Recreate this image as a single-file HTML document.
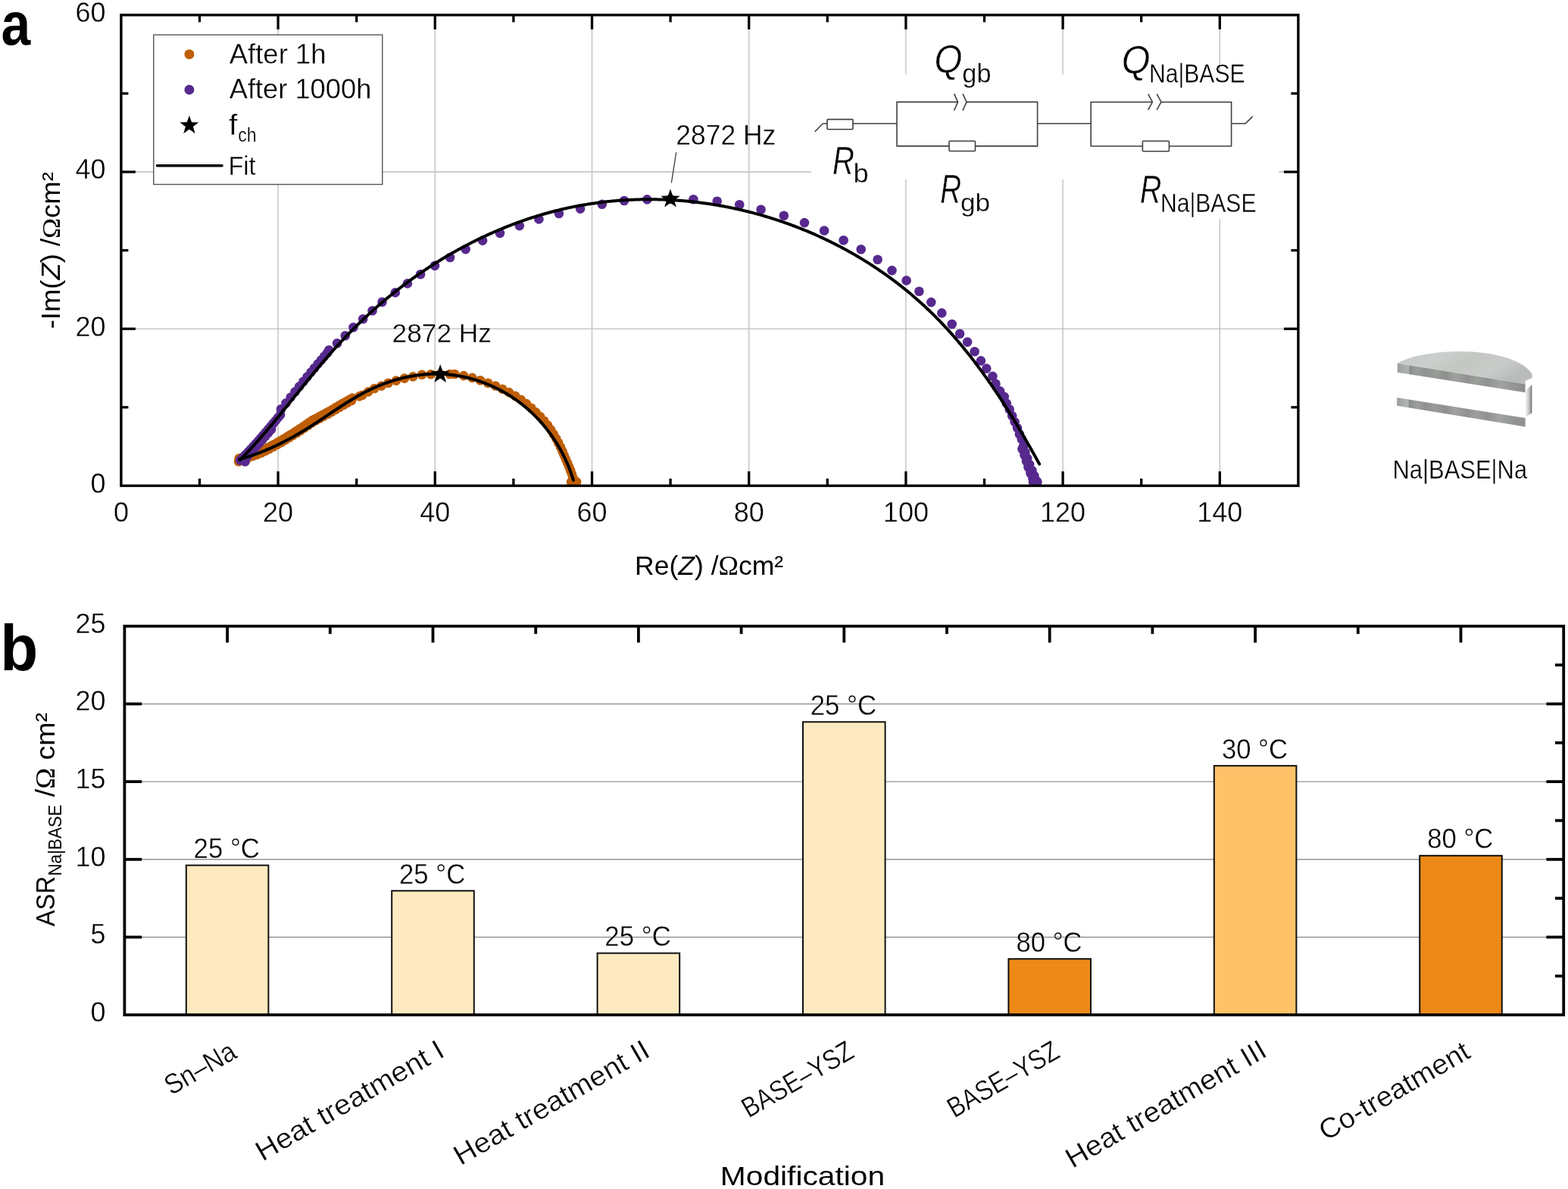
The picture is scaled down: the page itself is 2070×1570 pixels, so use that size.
<!DOCTYPE html>
<html><head><meta charset="utf-8"><title>Figure</title>
<style>html,body{margin:0;padding:0;background:#fff;width:2070px;height:1570px;overflow:hidden}svg{display:block}</style>
</head><body>
<svg xmlns="http://www.w3.org/2000/svg" width="2070" height="1570" viewBox="0 0 2070 1570"><rect width="2070" height="1570" fill="#fff"/><line x1="367.1" y1="19.8" x2="367.1" y2="641.4" stroke="#bebebe" stroke-width="1.3"/>
<line x1="574.3" y1="19.8" x2="574.3" y2="641.4" stroke="#bebebe" stroke-width="1.3"/>
<line x1="781.5" y1="19.8" x2="781.5" y2="641.4" stroke="#bebebe" stroke-width="1.3"/>
<line x1="988.7" y1="19.8" x2="988.7" y2="641.4" stroke="#bebebe" stroke-width="1.3"/>
<line x1="1195.9" y1="19.8" x2="1195.9" y2="641.4" stroke="#bebebe" stroke-width="1.3"/>
<line x1="1403.1" y1="19.8" x2="1403.1" y2="641.4" stroke="#bebebe" stroke-width="1.3"/>
<line x1="1610.3" y1="19.8" x2="1610.3" y2="641.4" stroke="#bebebe" stroke-width="1.3"/>
<line x1="159.9" y1="434.2" x2="1713.9" y2="434.2" stroke="#bebebe" stroke-width="1.3"/>
<line x1="159.9" y1="227" x2="1713.9" y2="227" stroke="#bebebe" stroke-width="1.3"/>
<rect x="1071" y="98.5" width="617" height="138.5" fill="#fff"/>
<rect x="1500" y="236" width="188" height="53" fill="#fff"/>
<rect x="202.8" y="46" width="302" height="197.5" fill="#fff" stroke="#555" stroke-width="1.4"/>
<line x1="263.5" y1="641.4" x2="263.5" y2="631.9" stroke="#000" stroke-width="3.3"/>
<line x1="263.5" y1="19.8" x2="263.5" y2="29.3" stroke="#000" stroke-width="3.3"/>
<line x1="367.1" y1="641.4" x2="367.1" y2="622.4" stroke="#000" stroke-width="3.3"/>
<line x1="367.1" y1="19.8" x2="367.1" y2="38.8" stroke="#000" stroke-width="3.3"/>
<line x1="470.7" y1="641.4" x2="470.7" y2="631.9" stroke="#000" stroke-width="3.3"/>
<line x1="470.7" y1="19.8" x2="470.7" y2="29.3" stroke="#000" stroke-width="3.3"/>
<line x1="574.3" y1="641.4" x2="574.3" y2="622.4" stroke="#000" stroke-width="3.3"/>
<line x1="574.3" y1="19.8" x2="574.3" y2="38.8" stroke="#000" stroke-width="3.3"/>
<line x1="677.9" y1="641.4" x2="677.9" y2="631.9" stroke="#000" stroke-width="3.3"/>
<line x1="677.9" y1="19.8" x2="677.9" y2="29.3" stroke="#000" stroke-width="3.3"/>
<line x1="781.5" y1="641.4" x2="781.5" y2="622.4" stroke="#000" stroke-width="3.3"/>
<line x1="781.5" y1="19.8" x2="781.5" y2="38.8" stroke="#000" stroke-width="3.3"/>
<line x1="885.1" y1="641.4" x2="885.1" y2="631.9" stroke="#000" stroke-width="3.3"/>
<line x1="885.1" y1="19.8" x2="885.1" y2="29.3" stroke="#000" stroke-width="3.3"/>
<line x1="988.7" y1="641.4" x2="988.7" y2="622.4" stroke="#000" stroke-width="3.3"/>
<line x1="988.7" y1="19.8" x2="988.7" y2="38.8" stroke="#000" stroke-width="3.3"/>
<line x1="1092.3" y1="641.4" x2="1092.3" y2="631.9" stroke="#000" stroke-width="3.3"/>
<line x1="1092.3" y1="19.8" x2="1092.3" y2="29.3" stroke="#000" stroke-width="3.3"/>
<line x1="1195.9" y1="641.4" x2="1195.9" y2="622.4" stroke="#000" stroke-width="3.3"/>
<line x1="1195.9" y1="19.8" x2="1195.9" y2="38.8" stroke="#000" stroke-width="3.3"/>
<line x1="1299.5" y1="641.4" x2="1299.5" y2="631.9" stroke="#000" stroke-width="3.3"/>
<line x1="1299.5" y1="19.8" x2="1299.5" y2="29.3" stroke="#000" stroke-width="3.3"/>
<line x1="1403.1" y1="641.4" x2="1403.1" y2="622.4" stroke="#000" stroke-width="3.3"/>
<line x1="1403.1" y1="19.8" x2="1403.1" y2="38.8" stroke="#000" stroke-width="3.3"/>
<line x1="1506.7" y1="641.4" x2="1506.7" y2="631.9" stroke="#000" stroke-width="3.3"/>
<line x1="1506.7" y1="19.8" x2="1506.7" y2="29.3" stroke="#000" stroke-width="3.3"/>
<line x1="1610.3" y1="641.4" x2="1610.3" y2="622.4" stroke="#000" stroke-width="3.3"/>
<line x1="1610.3" y1="19.8" x2="1610.3" y2="38.8" stroke="#000" stroke-width="3.3"/>
<line x1="159.9" y1="537.8" x2="169.4" y2="537.8" stroke="#000" stroke-width="3.3"/>
<line x1="1713.9" y1="537.8" x2="1704.4" y2="537.8" stroke="#000" stroke-width="3.3"/>
<line x1="159.9" y1="434.2" x2="178.9" y2="434.2" stroke="#000" stroke-width="3.3"/>
<line x1="1713.9" y1="434.2" x2="1694.9" y2="434.2" stroke="#000" stroke-width="3.3"/>
<line x1="159.9" y1="330.6" x2="169.4" y2="330.6" stroke="#000" stroke-width="3.3"/>
<line x1="1713.9" y1="330.6" x2="1704.4" y2="330.6" stroke="#000" stroke-width="3.3"/>
<line x1="159.9" y1="227" x2="178.9" y2="227" stroke="#000" stroke-width="3.3"/>
<line x1="1713.9" y1="227" x2="1694.9" y2="227" stroke="#000" stroke-width="3.3"/>
<line x1="159.9" y1="123.4" x2="169.4" y2="123.4" stroke="#000" stroke-width="3.3"/>
<line x1="1713.9" y1="123.4" x2="1704.4" y2="123.4" stroke="#000" stroke-width="3.3"/>
<text x="159.9" y="688.5" font-size="36" text-anchor="middle" font-family="Liberation Sans, Arial, sans-serif" stroke="#fff" stroke-width="0.35">0</text>
<text x="367.1" y="688.5" font-size="36" text-anchor="middle" font-family="Liberation Sans, Arial, sans-serif" stroke="#fff" stroke-width="0.35">20</text>
<text x="574.3" y="688.5" font-size="36" text-anchor="middle" font-family="Liberation Sans, Arial, sans-serif" stroke="#fff" stroke-width="0.35">40</text>
<text x="781.5" y="688.5" font-size="36" text-anchor="middle" font-family="Liberation Sans, Arial, sans-serif" stroke="#fff" stroke-width="0.35">60</text>
<text x="988.7" y="688.5" font-size="36" text-anchor="middle" font-family="Liberation Sans, Arial, sans-serif" stroke="#fff" stroke-width="0.35">80</text>
<text x="1195.9" y="688.5" font-size="36" text-anchor="middle" font-family="Liberation Sans, Arial, sans-serif" stroke="#fff" stroke-width="0.35">100</text>
<text x="1403.1" y="688.5" font-size="36" text-anchor="middle" font-family="Liberation Sans, Arial, sans-serif" stroke="#fff" stroke-width="0.35">120</text>
<text x="1610.3" y="688.5" font-size="36" text-anchor="middle" font-family="Liberation Sans, Arial, sans-serif" stroke="#fff" stroke-width="0.35">140</text>
<text x="139.5" y="650.8" font-size="36" text-anchor="end" font-family="Liberation Sans, Arial, sans-serif" stroke="#fff" stroke-width="0.35">0</text>
<text x="139.5" y="443.6" font-size="36" text-anchor="end" font-family="Liberation Sans, Arial, sans-serif" stroke="#fff" stroke-width="0.35">20</text>
<text x="139.5" y="236.4" font-size="36" text-anchor="end" font-family="Liberation Sans, Arial, sans-serif" stroke="#fff" stroke-width="0.35">40</text>
<text x="139.5" y="29.2" font-size="36" text-anchor="end" font-family="Liberation Sans, Arial, sans-serif" stroke="#fff" stroke-width="0.35">60</text>
<g fill="#be5e06"><circle cx="315.67" cy="605.2" r="6.3"/><circle cx="320.49" cy="603.88" r="6.3"/><circle cx="325.28" cy="602.46" r="6.3"/><circle cx="330.05" cy="600.94" r="6.3"/><circle cx="334.78" cy="599.34" r="6.3"/><circle cx="339.49" cy="597.65" r="6.3"/><circle cx="344.12" cy="595.78" r="6.3"/><circle cx="348.63" cy="593.63" r="6.3"/><circle cx="353.11" cy="591.4" r="6.3"/><circle cx="357.55" cy="589.1" r="6.3"/><circle cx="361.96" cy="586.73" r="6.3"/><circle cx="366.32" cy="584.3" r="6.3"/><circle cx="370.66" cy="581.81" r="6.3"/><circle cx="374.96" cy="579.25" r="6.3"/><circle cx="379.23" cy="576.66" r="6.3"/><circle cx="383.51" cy="574.07" r="6.3"/><circle cx="387.75" cy="571.43" r="6.3"/><circle cx="391.97" cy="568.74" r="6.3"/><circle cx="396.16" cy="566.01" r="6.3"/><circle cx="400.31" cy="563.23" r="6.3"/><circle cx="404.45" cy="560.41" r="6.3"/><circle cx="408.55" cy="557.56" r="6.3"/><circle cx="412.7" cy="554.78" r="6.3"/><circle cx="417.12" cy="552.45" r="6.3"/><circle cx="421.53" cy="550.1" r="6.3"/><circle cx="425.94" cy="547.72" r="6.3"/><circle cx="430.33" cy="545.34" r="6.3"/><circle cx="434.73" cy="542.96" r="6.3"/><circle cx="439.06" cy="540.46" r="6.3"/><circle cx="443.36" cy="537.92" r="6.3"/><circle cx="447.68" cy="535.39" r="6.3"/><circle cx="452.01" cy="532.9" r="6.3"/><circle cx="456.37" cy="530.44" r="6.3"/><circle cx="460.75" cy="528.03" r="6.3"/><circle cx="465.15" cy="525.67" r="6.3"/><circle cx="316.29" cy="607.52" r="6.3"/><circle cx="322.07" cy="605.92" r="6.3"/><circle cx="327.81" cy="604.18" r="6.3"/><circle cx="333.51" cy="602.32" r="6.3"/><circle cx="339.17" cy="600.33" r="6.3"/><circle cx="344.75" cy="598.13" r="6.3"/><circle cx="350.17" cy="595.54" r="6.3"/><circle cx="355.53" cy="592.85" r="6.3"/><circle cx="360.84" cy="590.06" r="6.3"/><circle cx="366.1" cy="587.17" r="6.3"/><circle cx="371.31" cy="584.2" r="6.3"/><circle cx="376.47" cy="581.14" r="6.3"/><circle cx="381.61" cy="578.03" r="6.3"/><circle cx="386.72" cy="574.9" r="6.3"/><circle cx="391.8" cy="571.7" r="6.3"/><circle cx="396.83" cy="568.43" r="6.3"/><circle cx="401.82" cy="565.1" r="6.3"/><circle cx="406.78" cy="561.72" r="6.3"/><circle cx="411.7" cy="558.28" r="6.3"/><circle cx="416.88" cy="555.28" r="6.3"/><circle cx="422.18" cy="552.46" r="6.3"/><circle cx="427.46" cy="549.62" r="6.3"/><circle cx="432.73" cy="546.76" r="6.3"/><circle cx="438" cy="543.89" r="6.3"/><circle cx="443.16" cy="540.82" r="6.3"/><circle cx="448.33" cy="537.78" r="6.3"/><circle cx="453.53" cy="534.79" r="6.3"/><circle cx="458.76" cy="531.85" r="6.3"/><circle cx="464.03" cy="528.98" r="6.3"/><circle cx="315" cy="609.5" r="6.3"/><circle cx="474.4" cy="523.4" r="6.3"/><circle cx="478.3" cy="521.7" r="6.3"/><circle cx="486.1" cy="517.4" r="6.3"/><circle cx="494.3" cy="513" r="6.3"/><circle cx="503.5" cy="509.6" r="6.3"/><circle cx="512.6" cy="505.7" r="6.3"/><circle cx="523" cy="502.6" r="6.3"/><circle cx="533.9" cy="499.6" r="6.3"/><circle cx="545.2" cy="497.4" r="6.3"/><circle cx="557" cy="494.8" r="6.3"/><circle cx="568.7" cy="494.3" r="6.3"/><circle cx="581" cy="494" r="6.3"/><circle cx="593.7" cy="494" r="6.3"/><circle cx="600.31" cy="493.99" r="6.3"/><circle cx="612.12" cy="496.09" r="6.3"/><circle cx="623.38" cy="498.85" r="6.3"/><circle cx="634.08" cy="502.18" r="6.3"/><circle cx="644.29" cy="505.8" r="6.3"/><circle cx="654.06" cy="509.55" r="6.3"/><circle cx="663.3" cy="513.69" r="6.3"/><circle cx="672" cy="518.16" r="6.3"/><circle cx="680.17" cy="522.91" r="6.3"/><circle cx="687.83" cy="527.89" r="6.3"/><circle cx="694.91" cy="533.15" r="6.3"/><circle cx="701.38" cy="538.72" r="6.3"/><circle cx="707.4" cy="544.35" r="6.3"/><circle cx="712.99" cy="550.04" r="6.3"/><circle cx="718.18" cy="555.73" r="6.3"/><circle cx="722.99" cy="561.42" r="6.3"/><circle cx="727.09" cy="567.33" r="6.3"/><circle cx="730.77" cy="573.23" r="6.3"/><circle cx="734.14" cy="579.05" r="6.3"/><circle cx="737.2" cy="584.78" r="6.3"/><circle cx="739.97" cy="590.41" r="6.3"/><circle cx="742.49" cy="595.93" r="6.3"/><circle cx="744.76" cy="601.34" r="6.3"/><circle cx="746.95" cy="606.57" r="6.3"/><circle cx="749.2" cy="611.56" r="6.3"/><circle cx="751.25" cy="616.44" r="6.3"/><circle cx="753.12" cy="621.21" r="6.3"/><circle cx="754.81" cy="625.86" r="6.3"/><circle cx="756.33" cy="630.39" r="6.3"/><circle cx="761.1" cy="636.3" r="6.3"/><circle cx="758.5" cy="636.8" r="6.3"/><circle cx="754" cy="636.5" r="6.3"/></g>
<g fill="#57298e"><circle cx="317.22" cy="607.73" r="6.3"/><circle cx="320.71" cy="604.15" r="6.3"/><circle cx="324.17" cy="600.54" r="6.3"/><circle cx="327.6" cy="596.9" r="6.3"/><circle cx="331.01" cy="593.24" r="6.3"/><circle cx="334.38" cy="589.55" r="6.3"/><circle cx="337.73" cy="585.83" r="6.3"/><circle cx="341.05" cy="582.1" r="6.3"/><circle cx="344.35" cy="578.34" r="6.3"/><circle cx="347.63" cy="574.57" r="6.3"/><circle cx="350.89" cy="570.77" r="6.3"/><circle cx="354.13" cy="566.97" r="6.3"/><circle cx="357.35" cy="563.14" r="6.3"/><circle cx="360.56" cy="559.31" r="6.3"/><circle cx="363.75" cy="555.46" r="6.3"/><circle cx="366.93" cy="551.6" r="6.3"/><circle cx="370.1" cy="547.73" r="6.3"/><circle cx="322.02" cy="607.11" r="6.3"/><circle cx="326.18" cy="602.78" r="6.3"/><circle cx="330.3" cy="598.41" r="6.3"/><circle cx="334.37" cy="594.01" r="6.3"/><circle cx="338.4" cy="589.57" r="6.3"/><circle cx="342.4" cy="585.09" r="6.3"/><circle cx="346.37" cy="580.59" r="6.3"/><circle cx="350.3" cy="576.06" r="6.3"/><circle cx="354.21" cy="571.51" r="6.3"/><circle cx="358.09" cy="566.93" r="6.3"/><circle cx="323.6" cy="609.5" r="6.3"/><circle cx="431.9" cy="466.29" r="6.3"/><circle cx="427.96" cy="470.81" r="6.3"/><circle cx="423.85" cy="475.6" r="6.3"/><circle cx="419.57" cy="480.65" r="6.3"/><circle cx="415.1" cy="485.98" r="6.3"/><circle cx="410.43" cy="491.61" r="6.3"/><circle cx="405.56" cy="497.54" r="6.3"/><circle cx="400.46" cy="503.8" r="6.3"/><circle cx="395.13" cy="510.39" r="6.3"/><circle cx="389.54" cy="517.32" r="6.3"/><circle cx="383.67" cy="524.61" r="6.3"/><circle cx="377.5" cy="532.27" r="6.3"/><circle cx="371" cy="540.29" r="6.3"/><circle cx="434.3" cy="462.3" r="6.3"/><circle cx="445.1" cy="453.3" r="6.3"/><circle cx="455.8" cy="443.2" r="6.3"/><circle cx="466.5" cy="432.2" r="6.3"/><circle cx="479.2" cy="421.3" r="6.3"/><circle cx="491.6" cy="410.3" r="6.3"/><circle cx="504.5" cy="398.7" r="6.3"/><circle cx="521.8" cy="386.4" r="6.3"/><circle cx="537.9" cy="374.4" r="6.3"/><circle cx="555.1" cy="362.3" r="6.3"/><circle cx="574" cy="350.9" r="6.3"/><circle cx="594.1" cy="340" r="6.3"/><circle cx="614.7" cy="329.1" r="6.3"/><circle cx="637.1" cy="317.6" r="6.3"/><circle cx="660" cy="307.9" r="6.3"/><circle cx="685.8" cy="298.1" r="6.3"/><circle cx="711.4" cy="289.4" r="6.3"/><circle cx="737.9" cy="282" r="6.3"/><circle cx="766.1" cy="275.6" r="6.3"/><circle cx="794.8" cy="269.8" r="6.3"/><circle cx="824" cy="265" r="6.3"/><circle cx="854.3" cy="263.4" r="6.3"/><circle cx="885" cy="263" r="6.3"/><circle cx="915.4" cy="263.3" r="6.3"/><circle cx="946.7" cy="265.7" r="6.3"/><circle cx="976.2" cy="270.3" r="6.3"/><circle cx="1004.6" cy="276.7" r="6.3"/><circle cx="1034.8" cy="284.8" r="6.3"/><circle cx="1062" cy="294.1" r="6.3"/><circle cx="1088.1" cy="304.5" r="6.3"/><circle cx="1113.6" cy="317.2" r="6.3"/><circle cx="1136.7" cy="329.3" r="6.3"/><circle cx="1158.6" cy="342.7" r="6.3"/><circle cx="1177.5" cy="357.1" r="6.3"/><circle cx="1196.6" cy="370.4" r="6.3"/><circle cx="1213.4" cy="384.7" r="6.3"/><circle cx="1229.3" cy="399.1" r="6.3"/><circle cx="1243.3" cy="413.4" r="6.3"/><circle cx="1256.7" cy="428" r="6.3"/><circle cx="1267.1" cy="440.8" r="6.3"/><circle cx="1277.1" cy="451.6" r="6.3"/><circle cx="1286.6" cy="464.3" r="6.3"/><circle cx="1294.9" cy="476.4" r="6.3"/><circle cx="1302.3" cy="486.6" r="6.3"/><circle cx="1310.4" cy="496.9" r="6.3"/><circle cx="1314.4" cy="506.7" r="6.3"/><circle cx="1320.1" cy="516.4" r="6.3"/><circle cx="1325.8" cy="523.9" r="6.3"/><circle cx="1328.7" cy="532.5" r="6.3"/><circle cx="1332.7" cy="540.5" r="6.3"/><circle cx="1336.2" cy="549.1" r="6.3"/><circle cx="1339.6" cy="557.1" r="6.3"/><circle cx="1343" cy="565.1" r="6.3"/><circle cx="1345.9" cy="573.2" r="6.3"/><circle cx="1348.8" cy="580" r="6.3"/><circle cx="1351.1" cy="589.2" r="6.3"/><circle cx="1353.4" cy="597.2" r="6.3"/><circle cx="1356.2" cy="605.2" r="6.3"/><circle cx="1359.1" cy="613.3" r="6.3"/><circle cx="1362.5" cy="621.3" r="6.3"/><circle cx="1365.4" cy="628.2" r="6.3"/><circle cx="1368.3" cy="635" r="6.3"/><circle cx="1369.4" cy="636.5" r="6.3"/><circle cx="1349.5" cy="593" r="6.3"/><circle cx="1352.5" cy="601" r="6.3"/><circle cx="1355" cy="609" r="6.3"/><circle cx="1357.5" cy="617" r="6.3"/><circle cx="1360.5" cy="625" r="6.3"/><circle cx="1363.5" cy="632" r="6.3"/><circle cx="1366.5" cy="636" r="6.3"/><circle cx="1364" cy="636.5" r="6.3"/></g>
<path d="M315.98 606.36 L317.03 606.08 L318.08 605.8 L319.12 605.51 L320.16 605.22 L321.21 604.92 L322.25 604.62 L323.28 604.31 L324.32 604 L325.35 603.69 L326.38 603.37 L327.41 603.05 L328.44 602.73 L329.46 602.4 L330.48 602.06 L331.51 601.73 L332.52 601.39 L333.54 601.04 L334.55 600.69 L335.57 600.34 L336.58 599.98 L337.59 599.62 L338.59 599.26 L339.6 598.89 L340.6 598.52 L341.6 598.15 L342.6 597.77 L343.6 597.39 L344.59 597 L345.59 596.61 L346.58 596.22 L347.57 595.83 L348.56 595.43 L349.54 595.03 L350.53 594.62 L351.51 594.21 L352.49 593.8 L353.47 593.38 L354.45 592.96 L355.42 592.54 L356.4 592.11 L357.37 591.69 L358.34 591.25 L359.31 590.82 L360.28 590.38 L361.24 589.94 L362.21 589.49 L363.17 589.05 L364.13 588.6 L365.09 588.14 L366.05 587.69 L367 587.23 L367.96 586.76 L368.91 586.3 L369.86 585.83 L370.81 585.36 L371.76 584.89 L372.71 584.41 L373.65 583.93 L374.6 583.45 L375.54 582.96 L376.48 582.47 L377.42 581.98 L378.36 581.49 L379.3 581 L380.23 580.5 L381.17 580 L382.1 579.49 L383.03 578.99 L383.96 578.48 L384.89 577.97 L385.82 577.46 L386.75 576.94 L387.67 576.42 L388.6 575.9 L389.52 575.38 L390.44 574.86 L391.36 574.33 L392.28 573.8 L393.2 573.27 L394.12 572.74 L395.03 572.2 L395.95 571.66 L396.86 571.12 L397.77 570.58 L398.68 570.04 L399.59 569.49 L400.5 568.94 L401.41 568.39 L402.32 567.84 L403.22 567.29 L404.13 566.73 L405.03 566.17 L405.93 565.61 L406.84 565.05 L407.74 564.49 L408.64 563.92 L409.54 563.36 L410.43 562.79 L411.33 562.22 L412.23 561.64 L413.12 561.07 L414.02 560.5 L414.91 559.92 L415.8 559.34 L416.7 558.76 L417.59 558.18 L418.48 557.6 L419.37 557.01 L420.26 556.43 L421.14 555.84 L422.03 555.26 L422.92 554.67 L423.81 554.08 L424.69 553.49 L425.58 552.9 L426.47 552.31 L427.35 551.72 L428.24 551.12 L429.12 550.53 L430.01 549.94 L430.89 549.35 L431.78 548.75 L432.66 548.16 L433.55 547.57 L434.43 546.97 L435.32 546.38 L436.2 545.78 L437.09 545.19 L437.98 544.6 L438.86 544.01 L439.75 543.42 L440.63 542.82 L441.52 542.23 L442.41 541.64 L443.3 541.05 L444.19 540.47 L445.07 539.88 L445.96 539.29 L446.85 538.71 L447.74 538.12 L448.64 537.54 L449.53 536.96 L450.42 536.38 L451.32 535.8 L452.21 535.22 L453.11 534.64 L454 534.07 L454.9 533.5 L455.8 532.93 L456.7 532.36 L457.6 531.79 L458.5 531.22 L459.41 530.66 L460.31 530.1 L461.22 529.54 L462.13 528.99 L463.04 528.43 L463.95 527.88 L464.86 527.33 L465.77 526.79 L466.69 526.24 L467.6 525.7 L468.52 525.16 L469.44 524.63 L470.36 524.1 L471.29 523.57 L472.21 523.04 L473.14 522.52 L474.07 522 L475 521.48 L475.93 520.97 L476.87 520.46 L477.81 519.95 L478.75 519.45 L479.69 518.95 L480.63 518.46 L481.58 517.97 L482.52 517.48 L483.48 517 L484.43 516.52 L485.38 516.05 L486.34 515.58 L487.3 515.11 L488.26 514.65 L489.23 514.19 L490.2 513.74 L491.16 513.29 L492.14 512.84 L493.11 512.4 L494.08 511.97 L495.06 511.53 L496.04 511.11 L497.02 510.69 L498.01 510.27 L498.99 509.85 L499.98 509.44 L500.97 509.04 L501.96 508.64 L502.96 508.24 L503.95 507.85 L504.95 507.47 L505.95 507.09 L506.95 506.71 L507.95 506.34 L508.96 505.97 L509.96 505.61 L510.97 505.25 L511.98 504.9 L512.99 504.55 L514.01 504.21 L515.02 503.87 L516.04 503.54 L517.06 503.21 L518.08 502.89 L519.1 502.57 L520.12 502.26 L521.14 501.95 L522.17 501.65 L523.19 501.35 L524.22 501.06 L525.25 500.77 L526.28 500.49 L527.31 500.22 L528.35 499.95 L529.38 499.68 L530.42 499.42 L531.45 499.17 L532.49 498.92 L533.53 498.67 L534.57 498.44 L535.61 498.2 L536.65 497.98 L537.69 497.76 L538.74 497.54 L539.78 497.33 L540.83 497.12 L541.88 496.93 L542.92 496.73 L543.97 496.54 L545.02 496.36 L546.07 496.19 L547.12 496.02 L548.18 495.85 L549.23 495.69 L550.28 495.54 L551.34 495.39 L552.39 495.25 L553.45 495.12 L554.5 494.99 L555.56 494.87 L556.62 494.75 L557.67 494.64 L558.73 494.54 L559.79 494.44 L560.85 494.34 L561.91 494.26 L562.97 494.18 L564.03 494.11 L565.09 494.04 L566.15 493.98 L567.21 493.92 L568.27 493.87 L569.33 493.83 L570.39 493.8 L571.46 493.77 L572.52 493.75 L573.58 493.73 L574.64 493.72 L575.7 493.72 L576.77 493.72 L577.83 493.73 L578.89 493.75 L579.95 493.77 L581.02 493.8 L582.08 493.84 L583.14 493.88 L584.2 493.93 L585.26 493.99 L586.33 494.05 L587.39 494.12 L588.45 494.2 L589.51 494.28 L590.57 494.37 L591.63 494.47 L592.69 494.57 L593.75 494.68 L594.81 494.8 L595.86 494.92 L596.92 495.05 L597.98 495.18 L599.03 495.33 L600.09 495.47 L601.14 495.63 L602.2 495.79 L603.25 495.96 L604.3 496.13 L605.35 496.31 L606.4 496.5 L607.45 496.69 L608.5 496.89 L609.55 497.09 L610.59 497.3 L611.64 497.52 L612.68 497.74 L613.73 497.97 L614.77 498.21 L615.81 498.45 L616.85 498.7 L617.88 498.95 L618.92 499.21 L619.96 499.48 L620.99 499.75 L622.02 500.03 L623.05 500.31 L624.08 500.6 L625.11 500.9 L626.13 501.2 L627.16 501.51 L628.18 501.82 L629.2 502.14 L630.22 502.47 L631.24 502.8 L632.25 503.14 L633.27 503.48 L634.28 503.83 L635.29 504.18 L636.29 504.54 L637.3 504.91 L638.3 505.28 L639.3 505.66 L640.3 506.04 L641.3 506.43 L642.3 506.83 L643.29 507.23 L644.28 507.63 L645.27 508.04 L646.25 508.46 L647.24 508.88 L648.22 509.31 L649.2 509.75 L650.17 510.18 L651.15 510.63 L652.12 511.08 L653.09 511.53 L654.05 512 L655.01 512.46 L655.97 512.93 L656.93 513.41 L657.89 513.89 L658.84 514.38 L659.79 514.87 L660.73 515.37 L661.68 515.88 L662.62 516.38 L663.56 516.9 L664.49 517.42 L665.42 517.94 L666.35 518.47 L667.27 519.01 L668.2 519.55 L669.11 520.09 L670.03 520.64 L670.94 521.2 L671.85 521.76 L672.76 522.32 L673.66 522.89 L674.56 523.47 L675.45 524.05 L676.34 524.64 L677.23 525.23 L678.12 525.82 L679 526.42 L679.87 527.03 L680.75 527.64 L681.62 528.25 L682.48 528.87 L683.35 529.5 L684.21 530.13 L685.06 530.76 L685.91 531.4 L686.76 532.04 L687.6 532.69 L688.44 533.34 L689.28 534 L690.11 534.66 L690.94 535.33 L691.77 536 L692.59 536.68 L693.41 537.36 L694.22 538.04 L695.03 538.73 L695.84 539.42 L696.64 540.12 L697.44 540.82 L698.23 541.53 L699.02 542.24 L699.81 542.96 L700.59 543.68 L701.37 544.4 L702.15 545.13 L702.92 545.86 L703.68 546.6 L704.45 547.34 L705.21 548.08 L705.96 548.83 L706.71 549.59 L707.46 550.34 L708.2 551.1 L708.94 551.87 L709.67 552.64 L710.4 553.41 L711.13 554.19 L711.85 554.97 L712.57 555.75 L713.28 556.54 L713.99 557.33 L714.7 558.13 L715.4 558.93 L716.09 559.73 L716.79 560.54 L717.47 561.35 L718.16 562.17 L718.84 562.98 L719.51 563.81 L720.18 564.63 L720.85 565.46 L721.51 566.29 L722.17 567.13 L722.83 567.97 L723.47 568.81 L724.12 569.66 L724.76 570.51 L725.4 571.36 L726.03 572.22 L726.66 573.08 L727.28 573.94 L727.9 574.81 L728.51 575.68 L729.12 576.55 L729.72 577.43 L730.32 578.31 L730.92 579.19 L731.51 580.08 L732.1 580.97 L732.68 581.86 L733.26 582.76 L733.83 583.66 L734.4 584.56 L734.96 585.46 L735.52 586.37 L736.08 587.28 L736.62 588.19 L737.17 589.11 L737.71 590.03 L738.25 590.95 L738.78 591.88 L739.3 592.8 L739.82 593.73 L740.34 594.67 L740.85 595.6 L741.36 596.54 L741.86 597.48 L742.36 598.43 L742.85 599.37 L743.34 600.32 L743.82 601.27 L744.3 602.23 L744.77 603.19 L745.24 604.14 L745.7 605.11 L746.16 606.07 L746.61 607.04 L747.06 608.01 L747.51 608.98 L747.94 609.95 L748.38 610.93 L748.81 611.91 L749.23 612.89 L749.65 613.87 L750.06 614.86 L750.47 615.84 L750.87 616.83 L751.27 617.82 L751.66 618.82 L752.05 619.81 L752.43 620.81 L752.81 621.81 L753.18 622.82 L753.55 623.82 L753.91 624.83 L754.27 625.83 L754.62 626.84 L754.97 627.86 L755.31 628.87 L755.64 629.89 L755.97 630.9 L756.3 631.92 L756.62 632.94 L756.93 633.97" fill="none" stroke="#000" stroke-width="4" stroke-linejoin="round" stroke-linecap="round"/>
<path d="M316.87 607.38 L318.19 606.03 L319.51 604.67 L320.82 603.31 L322.14 601.95 L323.44 600.58 L324.74 599.21 L326.04 597.84 L327.34 596.46 L328.63 595.07 L329.91 593.69 L331.19 592.29 L332.47 590.9 L333.75 589.5 L335.02 588.1 L336.29 586.69 L337.55 585.28 L338.81 583.87 L340.07 582.45 L341.32 581.04 L342.57 579.61 L343.82 578.19 L345.07 576.76 L346.31 575.33 L347.55 573.9 L348.79 572.46 L350.02 571.02 L351.25 569.58 L352.48 568.14 L353.71 566.69 L354.93 565.24 L356.15 563.79 L357.37 562.34 L358.59 560.89 L359.81 559.43 L361.02 557.97 L362.23 556.51 L363.44 555.05 L364.65 553.58 L365.86 552.12 L367.06 550.65 L368.27 549.18 L369.47 547.71 L370.67 546.24 L371.87 544.77 L373.07 543.3 L374.27 541.82 L375.46 540.35 L376.66 538.87 L377.86 537.4 L379.05 535.92 L380.24 534.44 L381.44 532.96 L382.63 531.48 L383.82 530.01 L385.01 528.53 L386.2 527.05 L387.4 525.57 L388.59 524.09 L389.78 522.61 L390.97 521.13 L392.16 519.65 L393.35 518.17 L394.54 516.69 L395.73 515.21 L396.93 513.73 L398.12 512.25 L399.31 510.78 L400.51 509.3 L401.7 507.83 L402.9 506.35 L404.09 504.88 L405.29 503.41 L406.49 501.93 L407.69 500.46 L408.89 499 L410.09 497.53 L411.3 496.06 L412.5 494.6 L413.71 493.13 L414.92 491.67 L416.13 490.21 L417.34 488.76 L418.55 487.3 L419.77 485.85 L420.98 484.4 L422.2 482.95 L423.43 481.5 L424.65 480.06 L425.88 478.61 L427.11 477.17 L428.34 475.74 L429.57 474.3 L430.81 472.87 L432.05 471.44 L433.29 470.01 L434.53 468.59 L435.78 467.17 L437.03 465.75 L438.28 464.34 L439.54 462.93 L440.8 461.52 L442.06 460.12 L443.33 458.72 L444.6 457.32 L445.88 455.93 L447.15 454.54 L448.44 453.16 L449.72 451.77 L451.01 450.4 L452.3 449.02 L453.6 447.65 L454.89 446.28 L456.2 444.92 L457.5 443.56 L458.81 442.2 L460.13 440.85 L461.44 439.51 L462.77 438.16 L464.09 436.82 L465.42 435.48 L466.75 434.15 L468.09 432.82 L469.42 431.5 L470.77 430.18 L472.11 428.86 L473.46 427.55 L474.82 426.24 L476.17 424.93 L477.53 423.63 L478.9 422.33 L480.27 421.04 L481.64 419.75 L483.01 418.46 L484.39 417.18 L485.78 415.9 L487.16 414.63 L488.55 413.36 L489.95 412.09 L491.35 410.83 L492.75 409.58 L494.15 408.32 L495.56 407.07 L496.97 405.83 L498.39 404.59 L499.81 403.35 L501.23 402.12 L502.66 400.89 L504.09 399.66 L505.53 398.44 L506.97 397.23 L508.41 396.01 L509.85 394.81 L511.3 393.6 L512.76 392.4 L514.22 391.21 L515.68 390.02 L517.14 388.83 L518.61 387.65 L520.08 386.47 L521.56 385.3 L523.04 384.13 L524.52 382.96 L526.01 381.8 L527.5 380.64 L529 379.49 L530.5 378.34 L532 377.2 L533.51 376.06 L535.02 374.93 L536.53 373.79 L538.05 372.67 L539.57 371.55 L541.1 370.43 L542.63 369.32 L544.16 368.21 L545.7 367.1 L547.24 366.01 L548.79 364.91 L550.34 363.82 L551.89 362.73 L553.45 361.65 L555.01 360.58 L556.57 359.5 L558.14 358.44 L559.71 357.37 L561.29 356.31 L562.87 355.26 L564.45 354.21 L566.04 353.17 L567.63 352.13 L569.22 351.09 L570.82 350.06 L572.42 349.04 L574.02 348.02 L575.63 347 L577.24 345.99 L578.86 344.99 L580.48 343.99 L582.1 342.99 L583.72 342 L585.35 341.02 L586.98 340.04 L588.62 339.06 L590.26 338.09 L591.9 337.13 L593.55 336.17 L595.19 335.21 L596.85 334.26 L598.5 333.32 L600.16 332.38 L601.82 331.45 L603.49 330.52 L605.15 329.59 L606.82 328.68 L608.5 327.76 L610.17 326.86 L611.85 325.96 L613.54 325.06 L615.22 324.17 L616.91 323.29 L618.6 322.41 L620.3 321.53 L622 320.66 L623.7 319.8 L625.4 318.94 L627.11 318.09 L628.82 317.25 L630.53 316.41 L632.24 315.57 L633.96 314.74 L635.68 313.92 L637.41 313.11 L639.13 312.29 L640.86 311.49 L642.59 310.69 L644.33 309.9 L646.06 309.11 L647.8 308.33 L649.54 307.55 L651.29 306.78 L653.03 306.02 L654.78 305.26 L656.53 304.51 L658.29 303.76 L660.05 303.02 L661.8 302.29 L663.57 301.56 L665.33 300.84 L667.1 300.13 L668.86 299.42 L670.64 298.72 L672.41 298.02 L674.18 297.33 L675.96 296.65 L677.74 295.98 L679.52 295.31 L681.31 294.64 L683.09 293.98 L684.88 293.33 L686.67 292.69 L688.47 292.05 L690.26 291.42 L692.06 290.8 L693.86 290.18 L695.66 289.57 L697.46 288.96 L699.27 288.36 L701.07 287.77 L702.88 287.19 L704.69 286.61 L706.51 286.04 L708.32 285.47 L710.14 284.92 L711.95 284.36 L713.77 283.82 L715.6 283.28 L717.42 282.75 L719.25 282.23 L721.07 281.71 L722.9 281.2 L724.73 280.7 L726.56 280.21 L728.4 279.72 L730.23 279.24 L732.07 278.76 L733.91 278.3 L735.75 277.84 L737.59 277.39 L739.43 276.94 L741.28 276.5 L743.12 276.07 L744.97 275.65 L746.82 275.23 L748.67 274.82 L750.52 274.42 L752.37 274.03 L754.23 273.64 L756.08 273.26 L757.94 272.89 L759.8 272.52 L761.66 272.16 L763.52 271.81 L765.38 271.47 L767.24 271.13 L769.1 270.8 L770.97 270.48 L772.83 270.16 L774.7 269.85 L776.57 269.55 L778.44 269.26 L780.31 268.97 L782.18 268.69 L784.05 268.42 L785.93 268.15 L787.8 267.89 L789.67 267.64 L791.55 267.4 L793.43 267.16 L795.3 266.93 L797.18 266.71 L799.06 266.49 L800.94 266.28 L802.82 266.08 L804.7 265.88 L806.58 265.7 L808.47 265.51 L810.35 265.34 L812.23 265.17 L814.12 265.01 L816 264.86 L817.89 264.71 L819.77 264.57 L821.66 264.44 L823.55 264.32 L825.43 264.2 L827.32 264.09 L829.21 263.98 L831.1 263.89 L832.99 263.79 L834.87 263.71 L836.76 263.63 L838.65 263.56 L840.54 263.5 L842.43 263.45 L844.32 263.4 L846.22 263.35 L848.11 263.32 L850 263.29 L851.89 263.27 L853.78 263.25 L855.67 263.25 L857.56 263.24 L859.45 263.25 L861.34 263.26 L863.24 263.28 L865.13 263.31 L867.02 263.34 L868.91 263.38 L870.8 263.43 L872.69 263.48 L874.58 263.54 L876.47 263.61 L878.36 263.68 L880.25 263.76 L882.14 263.85 L884.03 263.94 L885.92 264.04 L887.81 264.15 L889.7 264.26 L891.59 264.38 L893.48 264.51 L895.36 264.65 L897.25 264.79 L899.14 264.93 L901.02 265.09 L902.91 265.25 L904.79 265.42 L906.68 265.59 L908.56 265.77 L910.45 265.96 L912.33 266.15 L914.21 266.35 L916.09 266.56 L917.97 266.77 L919.85 267 L921.73 267.22 L923.61 267.46 L925.49 267.7 L927.37 267.94 L929.24 268.2 L931.12 268.46 L932.99 268.72 L934.87 269 L936.74 269.28 L938.61 269.56 L940.48 269.86 L942.35 270.16 L944.22 270.46 L946.09 270.77 L947.96 271.09 L949.82 271.42 L951.69 271.75 L953.55 272.09 L955.42 272.43 L957.28 272.79 L959.14 273.14 L961 273.51 L962.85 273.88 L964.71 274.26 L966.57 274.64 L968.42 275.03 L970.27 275.43 L972.12 275.83 L973.97 276.24 L975.82 276.65 L977.67 277.08 L979.51 277.5 L981.36 277.94 L983.2 278.38 L985.04 278.83 L986.88 279.28 L988.72 279.74 L990.56 280.21 L992.39 280.68 L994.22 281.16 L996.06 281.65 L997.89 282.14 L999.71 282.64 L1001.54 283.14 L1003.37 283.65 L1005.19 284.17 L1007.01 284.7 L1008.83 285.23 L1010.65 285.76 L1012.46 286.3 L1014.28 286.85 L1016.09 287.41 L1017.9 287.97 L1019.71 288.54 L1021.51 289.11 L1023.32 289.69 L1025.12 290.28 L1026.92 290.87 L1028.72 291.47 L1030.52 292.07 L1032.31 292.68 L1034.1 293.3 L1035.89 293.92 L1037.68 294.55 L1039.46 295.19 L1041.25 295.83 L1043.03 296.48 L1044.81 297.13 L1046.58 297.79 L1048.36 298.46 L1050.13 299.13 L1051.9 299.81 L1053.67 300.5 L1055.43 301.19 L1057.19 301.89 L1058.95 302.59 L1060.71 303.3 L1062.46 304.01 L1064.22 304.73 L1065.97 305.46 L1067.71 306.2 L1069.46 306.94 L1071.2 307.68 L1072.94 308.43 L1074.68 309.19 L1076.41 309.95 L1078.14 310.72 L1079.87 311.5 L1081.6 312.28 L1083.32 313.07 L1085.04 313.86 L1086.76 314.66 L1088.47 315.47 L1090.18 316.28 L1091.89 317.1 L1093.6 317.92 L1095.3 318.75 L1097 319.59 L1098.7 320.43 L1100.39 321.28 L1102.08 322.13 L1103.77 322.99 L1105.46 323.85 L1107.14 324.72 L1108.82 325.6 L1110.49 326.48 L1112.16 327.37 L1113.83 328.27 L1115.5 329.17 L1117.16 330.07 L1118.82 330.99 L1120.48 331.9 L1122.13 332.83 L1123.78 333.76 L1125.43 334.69 L1127.07 335.63 L1128.71 336.58 L1130.35 337.53 L1131.98 338.49 L1133.61 339.46 L1135.23 340.43 L1136.86 341.4 L1138.48 342.39 L1140.09 343.37 L1141.7 344.37 L1143.31 345.37 L1144.92 346.37 L1146.52 347.38 L1148.11 348.4 L1149.71 349.42 L1151.3 350.45 L1152.88 351.48 L1154.47 352.52 L1156.04 353.57 L1157.62 354.62 L1159.19 355.67 L1160.76 356.74 L1162.32 357.8 L1163.88 358.88 L1165.43 359.96 L1166.99 361.04 L1168.53 362.13 L1170.08 363.23 L1171.62 364.33 L1173.15 365.44 L1174.68 366.55 L1176.21 367.67 L1177.73 368.79 L1179.25 369.92 L1180.77 371.06 L1182.28 372.2 L1183.78 373.34 L1185.29 374.5 L1186.79 375.65 L1188.28 376.82 L1189.77 377.98 L1191.25 379.16 L1192.74 380.34 L1194.21 381.52 L1195.68 382.71 L1197.15 383.91 L1198.62 385.11 L1200.07 386.32 L1201.53 387.53 L1202.98 388.75 L1204.42 389.97 L1205.87 391.2 L1207.3 392.44 L1208.73 393.68 L1210.16 394.92 L1211.58 396.18 L1213 397.43 L1214.41 398.69 L1215.82 399.96 L1217.23 401.23 L1218.63 402.51 L1220.02 403.8 L1221.41 405.08 L1222.79 406.38 L1224.17 407.68 L1225.55 408.98 L1226.92 410.29 L1228.29 411.61 L1229.65 412.93 L1231 414.26 L1232.35 415.59 L1233.7 416.93 L1235.04 418.27 L1236.37 419.62 L1237.71 420.97 L1239.03 422.33 L1240.35 423.69 L1241.67 425.06 L1242.98 426.43 L1244.29 427.8 L1245.6 429.19 L1246.89 430.57 L1248.19 431.96 L1249.48 433.36 L1250.76 434.76 L1252.04 436.16 L1253.32 437.57 L1254.59 438.99 L1255.85 440.41 L1257.12 441.83 L1258.37 443.25 L1259.63 444.69 L1260.88 446.12 L1262.12 447.56 L1263.36 449 L1264.6 450.45 L1265.83 451.9 L1267.05 453.36 L1268.28 454.82 L1269.5 456.28 L1270.71 457.75 L1271.92 459.22 L1273.12 460.7 L1274.33 462.18 L1275.52 463.66 L1276.72 465.14 L1277.91 466.63 L1279.09 468.13 L1280.27 469.62 L1281.45 471.12 L1282.62 472.63 L1283.79 474.13 L1284.95 475.64 L1286.11 477.16 L1287.27 478.67 L1288.42 480.19 L1289.57 481.72 L1290.71 483.24 L1291.85 484.77 L1292.99 486.3 L1294.12 487.84 L1295.25 489.37 L1296.38 490.91 L1297.5 492.46 L1298.62 494 L1299.73 495.55 L1300.84 497.1 L1301.95 498.66 L1303.05 500.21 L1304.15 501.77 L1305.24 503.33 L1306.33 504.9 L1307.42 506.46 L1308.51 508.03 L1309.59 509.6 L1310.66 511.18 L1311.74 512.75 L1312.81 514.33 L1313.87 515.91 L1314.94 517.49 L1316 519.07 L1317.05 520.66 L1318.1 522.25 L1319.15 523.84 L1320.2 525.43 L1321.24 527.02 L1322.28 528.61 L1323.32 530.21 L1324.35 531.81 L1325.38 533.41 L1326.4 535.01 L1327.42 536.61 L1328.44 538.22 L1329.46 539.82 L1330.47 541.43 L1331.48 543.04 L1332.49 544.65 L1333.49 546.26 L1334.49 547.87 L1335.49 549.48 L1336.48 551.09 L1337.47 552.71 L1338.46 554.32 L1339.44 555.94 L1340.43 557.56 L1341.41 559.18 L1342.38 560.8 L1343.35 562.42 L1344.32 564.04 L1345.29 565.66 L1346.25 567.28 L1347.22 568.9 L1348.17 570.53 L1349.13 572.15 L1350.08 573.77 L1351.03 575.4 L1351.98 577.02 L1352.92 578.65 L1353.86 580.27 L1354.8 581.9 L1355.74 583.52 L1356.67 585.15 L1357.6 586.78 L1358.53 588.4 L1359.46 590.03 L1360.38 591.65 L1361.3 593.28 L1362.22 594.9 L1363.13 596.53 L1364.05 598.15 L1364.96 599.78 L1365.86 601.4 L1366.77 603.03 L1367.67 604.65 L1368.57 606.27 L1369.47 607.9 L1370.37 609.52 L1371.26 611.14 L1372.15 612.76" fill="none" stroke="#000" stroke-width="4" stroke-linejoin="round" stroke-linecap="round"/>
<polygon points="885,249.5 888.13,258.5 897.65,258.69 890.06,264.44 892.82,273.56 885,268.12 877.18,273.56 879.94,264.44 872.35,258.69 881.87,258.5" fill="#000"/>
<polygon points="581.2,481 584.33,490 593.85,490.19 586.26,495.94 589.02,505.06 581.2,499.62 573.38,505.06 576.14,495.94 568.55,490.19 578.07,490" fill="#000"/>
<line x1="892.7" y1="201.2" x2="886.4" y2="241.3" stroke="#333" stroke-width="1.2"/>
<circle cx="249.9" cy="71.7" r="6.5" fill="#be5e06"/>
<circle cx="249.9" cy="118.5" r="6.5" fill="#57298e"/>
<polygon points="249.9,152.5 252.98,161.36 262.36,161.55 254.88,167.22 257.6,176.2 249.9,170.84 242.2,176.2 244.92,167.22 237.44,161.55 246.82,161.36" fill="#000"/>
<line x1="207.5" y1="218.8" x2="293" y2="218.8" stroke="#000" stroke-width="3.6" stroke-linecap="round"/>
<g stroke="#404040" stroke-width="1.6" fill="none" stroke-linejoin="round">
<polyline points="1075.6,174 1086.3,163.3 1092,163.3"/>
<rect x="1092" y="157.6" width="34" height="13.1" rx="1"/>
<line x1="1126" y1="163.3" x2="1184" y2="163.3"/>
<polyline points="1263.8,134.6 1184,134.6 1184,192.9 1253,192.9"/>
<polyline points="1276,134.6 1369.6,134.6 1369.6,192.9 1287.5,192.9"/>
<rect x="1253" y="186.3" width="34.5" height="13.2" rx="1"/>
<polyline points="1259.6,123.9 1264.5,134.6 1259.6,146"/>
<polyline points="1271,123.9 1276,134.6 1271,146"/>
<line x1="1369.6" y1="163.3" x2="1440.2" y2="163.3"/>
<polyline points="1521.4,134.7 1440.2,134.7 1440.2,193 1508.4,193"/>
<polyline points="1532.9,134.7 1625.6,134.7 1625.6,193 1543.4,193"/>
<rect x="1508.4" y="186.3" width="35" height="13.4" rx="1"/>
<polyline points="1515.7,124.2 1521.4,134.7 1515.7,145.2"/>
<polyline points="1527.2,124.2 1532.9,134.7 1527.2,145.2"/>
<polyline points="1625.6,163.3 1643.8,163.3 1653.7,153.8"/>
</g>
<rect x="159.9" y="19.8" width="1554" height="621.6" fill="none" stroke="#000" stroke-width="3.4"/>
<defs>
<linearGradient id="gtop" x1="0" y1="0" x2="1" y2="0.4"><stop offset="0" stop-color="#c2c8c5"/><stop offset="0.3" stop-color="#ccd0cd"/><stop offset="0.55" stop-color="#c3c6c3"/><stop offset="0.8" stop-color="#c9ccc9"/><stop offset="1" stop-color="#b9bcba"/></linearGradient>
<linearGradient id="gfront" x1="0" y1="0" x2="1" y2="0"><stop offset="0" stop-color="#9a9e9e"/><stop offset="0.05" stop-color="#a9adae"/><stop offset="0.088" stop-color="#b0b3b4"/><stop offset="0.097" stop-color="#878b8b"/><stop offset="0.11" stop-color="#8f9392"/><stop offset="0.16" stop-color="#9b9e9c"/><stop offset="0.22" stop-color="#8e918f"/><stop offset="0.3" stop-color="#999b98"/><stop offset="0.38" stop-color="#8d908c"/><stop offset="0.45" stop-color="#a0a29f"/><stop offset="0.55" stop-color="#8f928f"/><stop offset="0.62" stop-color="#9c9f9c"/><stop offset="0.7" stop-color="#8f928f"/><stop offset="0.8" stop-color="#a0a3a0"/><stop offset="0.9" stop-color="#939693"/><stop offset="1" stop-color="#8c8f8c"/></linearGradient>
<linearGradient id="gside" x1="0" y1="0" x2="1" y2="0"><stop offset="0" stop-color="#fafafa"/><stop offset="0.7" stop-color="#b4b4b4"/><stop offset="0.85" stop-color="#8a8a8a"/><stop offset="1" stop-color="#6c6c6c"/></linearGradient>
</defs>
<path d="M1844.8,479.7 C1862,470 1890,464.5 1925.7,464 C1975,464 2012,476 2022.7,494.2 L2022.7,499 L2013.6,503 L2013.6,507.3 Z" fill="url(#gtop)"/>
<polygon points="1844.8,479.7 2013.6,507.3 2013.6,518.3 1844.8,491.7" fill="url(#gfront)"/>
<path d="M2013.6,517 Q2018,511 2022.4,508.2 L2022.4,545.2 Q2018,548.5 2013.6,550.3 Z" fill="url(#gside)"/>
<polygon points="1844.2,525 2013.6,551.9 2013.6,563.5 1844.2,535.8" fill="url(#gfront)"/>
<line x1="164.4" y1="1237.44" x2="2064.2" y2="1237.44" stroke="#939393" stroke-width="1.4"/>
<line x1="164.4" y1="1134.78" x2="2064.2" y2="1134.78" stroke="#939393" stroke-width="1.4"/>
<line x1="164.4" y1="1032.12" x2="2064.2" y2="1032.12" stroke="#939393" stroke-width="1.4"/>
<line x1="164.4" y1="929.46" x2="2064.2" y2="929.46" stroke="#939393" stroke-width="1.4"/>
<rect x="245.82" y="1142.58" width="108.56" height="197.52" fill="#feeac0" stroke="#111" stroke-width="2"/>
<rect x="517.22" y="1176.25" width="108.56" height="163.85" fill="#feeac0" stroke="#111" stroke-width="2"/>
<rect x="788.62" y="1258.59" width="108.56" height="81.51" fill="#feeac0" stroke="#111" stroke-width="2"/>
<rect x="1060.02" y="953.28" width="108.56" height="386.82" fill="#feeac0" stroke="#111" stroke-width="2"/>
<rect x="1331.42" y="1266.18" width="108.56" height="73.92" fill="#ec8917" stroke="#111" stroke-width="2"/>
<rect x="1602.82" y="1011.18" width="108.56" height="328.92" fill="#fec269" stroke="#111" stroke-width="2"/>
<rect x="1874.22" y="1129.85" width="108.56" height="210.25" fill="#ec8917" stroke="#111" stroke-width="2"/>
<line x1="164.4" y1="1237.44" x2="187.2" y2="1237.44" stroke="#000" stroke-width="3.8"/>
<line x1="164.4" y1="1134.78" x2="187.2" y2="1134.78" stroke="#000" stroke-width="3.8"/>
<line x1="164.4" y1="1032.12" x2="187.2" y2="1032.12" stroke="#000" stroke-width="3.8"/>
<line x1="164.4" y1="929.46" x2="187.2" y2="929.46" stroke="#000" stroke-width="3.8"/>
<line x1="2064.2" y1="1288.77" x2="2053" y2="1288.77" stroke="#000" stroke-width="3.8"/>
<line x1="2064.2" y1="1237.44" x2="2041.4" y2="1237.44" stroke="#000" stroke-width="3.8"/>
<line x1="2064.2" y1="1186.11" x2="2053" y2="1186.11" stroke="#000" stroke-width="3.8"/>
<line x1="2064.2" y1="1134.78" x2="2041.4" y2="1134.78" stroke="#000" stroke-width="3.8"/>
<line x1="2064.2" y1="1083.45" x2="2053" y2="1083.45" stroke="#000" stroke-width="3.8"/>
<line x1="2064.2" y1="1032.12" x2="2041.4" y2="1032.12" stroke="#000" stroke-width="3.8"/>
<line x1="2064.2" y1="980.79" x2="2053" y2="980.79" stroke="#000" stroke-width="3.8"/>
<line x1="2064.2" y1="929.46" x2="2041.4" y2="929.46" stroke="#000" stroke-width="3.8"/>
<line x1="2064.2" y1="878.13" x2="2053" y2="878.13" stroke="#000" stroke-width="3.8"/>
<line x1="300.1" y1="826.8" x2="300.1" y2="848.5" stroke="#000" stroke-width="3.8"/>
<line x1="435.8" y1="826.8" x2="435.8" y2="837.1" stroke="#000" stroke-width="3.8"/>
<line x1="571.5" y1="826.8" x2="571.5" y2="848.5" stroke="#000" stroke-width="3.8"/>
<line x1="707.2" y1="826.8" x2="707.2" y2="837.1" stroke="#000" stroke-width="3.8"/>
<line x1="842.9" y1="826.8" x2="842.9" y2="848.5" stroke="#000" stroke-width="3.8"/>
<line x1="978.6" y1="826.8" x2="978.6" y2="837.1" stroke="#000" stroke-width="3.8"/>
<line x1="1114.3" y1="826.8" x2="1114.3" y2="848.5" stroke="#000" stroke-width="3.8"/>
<line x1="1250" y1="826.8" x2="1250" y2="837.1" stroke="#000" stroke-width="3.8"/>
<line x1="1385.7" y1="826.8" x2="1385.7" y2="848.5" stroke="#000" stroke-width="3.8"/>
<line x1="1521.4" y1="826.8" x2="1521.4" y2="837.1" stroke="#000" stroke-width="3.8"/>
<line x1="1657.1" y1="826.8" x2="1657.1" y2="848.5" stroke="#000" stroke-width="3.8"/>
<line x1="1792.8" y1="826.8" x2="1792.8" y2="837.1" stroke="#000" stroke-width="3.8"/>
<line x1="1928.5" y1="826.8" x2="1928.5" y2="848.5" stroke="#000" stroke-width="3.8"/>
<rect x="164.4" y="826.8" width="1899.8" height="513.3" fill="none" stroke="#000" stroke-width="3.8"/>
<text x="139.5" y="1349.1" font-size="36" text-anchor="end" font-family="Liberation Sans, Arial, sans-serif" stroke="#fff" stroke-width="0.35">0</text>
<text x="139.5" y="1246.44" font-size="36" text-anchor="end" font-family="Liberation Sans, Arial, sans-serif" stroke="#fff" stroke-width="0.35">5</text>
<text x="139.5" y="1143.78" font-size="36" text-anchor="end" font-family="Liberation Sans, Arial, sans-serif" stroke="#fff" stroke-width="0.35">10</text>
<text x="139.5" y="1041.12" font-size="36" text-anchor="end" font-family="Liberation Sans, Arial, sans-serif" stroke="#fff" stroke-width="0.35">15</text>
<text x="139.5" y="938.46" font-size="36" text-anchor="end" font-family="Liberation Sans, Arial, sans-serif" stroke="#fff" stroke-width="0.35">20</text>
<text x="139.5" y="835.8" font-size="36" text-anchor="end" font-family="Liberation Sans, Arial, sans-serif" stroke="#fff" stroke-width="0.35">25</text>
<text transform="translate(838.06 759.16) scale(0.9934 1)" font-size="35.74" font-family="Liberation Sans, Arial, sans-serif">Re(<tspan font-style="italic">Z</tspan>) /<tspan font-family="Liberation Serif, serif">&#937;</tspan>cm&#178;</text>
<text transform="translate(79.3 432.9) rotate(-90) translate(-1.46 0) scale(1.0567 1)" font-size="34.49" font-family="Liberation Sans, Arial, sans-serif">-Im(<tspan font-style="italic">Z</tspan>) /<tspan font-family="Liberation Serif, serif">&#937;</tspan>cm&#178;</text>
<text transform="translate(892.33 191.14) scale(0.9818 1)" font-size="36.06" font-family="Liberation Sans, Arial, sans-serif" stroke="#fff" stroke-width="0.35">2872 Hz</text>
<text transform="translate(517.54 452.44) scale(0.9826 1)" font-size="35.92" font-family="Liberation Sans, Arial, sans-serif" stroke="#fff" stroke-width="0.35">2872 Hz</text>
<text transform="translate(302.7 83.8) scale(1.0037 1)" font-size="36.38" font-family="Liberation Sans, Arial, sans-serif" stroke="#fff" stroke-width="0.35">After 1h</text>
<text transform="translate(302.7 130.2) scale(1.0059 1)" font-size="36.09" font-family="Liberation Sans, Arial, sans-serif" stroke="#fff" stroke-width="0.35">After 1000h</text>
<text transform="translate(302.09 177.69) scale(1.0571 1)" font-size="38.89" font-family="Liberation Sans, Arial, sans-serif" stroke="#fff" stroke-width="0.38">f</text>
<text transform="translate(314.18 187.05) scale(0.9273 1)" font-size="24.86" font-family="Liberation Sans, Arial, sans-serif" stroke="#fff" stroke-width="0.24">ch</text>
<text transform="translate(301.4 230.7) scale(0.9242 1)" font-size="35.22" font-family="Liberation Sans, Arial, sans-serif" stroke="#fff" stroke-width="0.34">Fit</text>
<text transform="translate(1233.52 96.18) scale(0.9196 1)" font-size="51.69" font-family="Liberation Sans, Arial, sans-serif" font-style="italic" stroke="#fff" stroke-width="0.5">Q</text>
<text transform="translate(1270.33 108.9) scale(0.9660 1)" font-size="35.48" font-family="Liberation Sans, Arial, sans-serif" stroke="#fff" stroke-width="0.34">gb</text>
<text transform="translate(1480.77 97.28) scale(0.9393 1)" font-size="51.69" font-family="Liberation Sans, Arial, sans-serif" font-style="italic" stroke="#fff" stroke-width="0.5">Q</text>
<text transform="translate(1517.09 108.9) scale(0.8682 1)" font-size="34.64" font-family="Liberation Sans, Arial, sans-serif" stroke="#fff" stroke-width="0.34">Na|BASE</text>
<text transform="translate(1099 229.52) scale(0.7676 1)" font-size="51.91" font-family="Liberation Sans, Arial, sans-serif" font-style="italic" stroke="#fff" stroke-width="0.5">R</text>
<text transform="translate(1126.45 241.4) scale(1.0410 1)" font-size="34.93" font-family="Liberation Sans, Arial, sans-serif" stroke="#fff" stroke-width="0.34">b</text>
<text transform="translate(1241.14 268.13) scale(0.7278 1)" font-size="53.09" font-family="Liberation Sans, Arial, sans-serif" font-style="italic" stroke="#fff" stroke-width="0.52">R</text>
<text transform="translate(1267.99 279.1) scale(1.0429 1)" font-size="33.7" font-family="Liberation Sans, Arial, sans-serif" stroke="#fff" stroke-width="0.33">gb</text>
<text transform="translate(1504.92 268.02) scale(0.7559 1)" font-size="51.91" font-family="Liberation Sans, Arial, sans-serif" font-style="italic" stroke="#fff" stroke-width="0.5">R</text>
<text transform="translate(1531.99 280) scale(0.8646 1)" font-size="34.78" font-family="Liberation Sans, Arial, sans-serif" stroke="#fff" stroke-width="0.34">Na|BASE</text>
<text transform="translate(1838.53 631.5) scale(0.8821 1)" font-size="35.07" font-family="Liberation Sans, Arial, sans-serif" stroke="#fff" stroke-width="0.34">Na|BASE|Na</text>
<text transform="translate(1.51 58.6) scale(0.8723 1)" font-size="79.82" font-family="Liberation Sans, Arial, sans-serif" font-weight="bold">a</text>
<text transform="translate(255.56 1133.21) scale(0.9429 1)" font-size="36.9" font-family="Liberation Sans, Arial, sans-serif" stroke="#fff" stroke-width="0.36">25 °C</text>
<text transform="translate(526.96 1166.89) scale(0.9429 1)" font-size="36.9" font-family="Liberation Sans, Arial, sans-serif" stroke="#fff" stroke-width="0.36">25 °C</text>
<text transform="translate(798.36 1249.22) scale(0.9429 1)" font-size="36.9" font-family="Liberation Sans, Arial, sans-serif" stroke="#fff" stroke-width="0.36">25 °C</text>
<text transform="translate(1069.76 943.91) scale(0.9429 1)" font-size="36.9" font-family="Liberation Sans, Arial, sans-serif" stroke="#fff" stroke-width="0.36">25 °C</text>
<text transform="translate(1341.51 1256.82) scale(0.9390 1)" font-size="36.9" font-family="Liberation Sans, Arial, sans-serif" stroke="#fff" stroke-width="0.36">80 °C</text>
<text transform="translate(1612.91 1001.81) scale(0.9390 1)" font-size="36.9" font-family="Liberation Sans, Arial, sans-serif" stroke="#fff" stroke-width="0.36">30 °C</text>
<text transform="translate(1884.31 1120.48) scale(0.9390 1)" font-size="36.9" font-family="Liberation Sans, Arial, sans-serif" stroke="#fff" stroke-width="0.36">80 °C</text>
<text transform="translate(227.33 1446) rotate(-30) translate(-1.68 0) scale(0.9044 1)" font-size="37.1" font-family="Liberation Sans, Arial, sans-serif" stroke="#fff" stroke-width="0.36">Sn–Na</text>
<text transform="translate(349.17 1532.35) rotate(-30) translate(-3.13 0) scale(1.0539 1)" font-size="37.1" font-family="Liberation Sans, Arial, sans-serif" stroke="#fff" stroke-width="0.36">Heat treatment I</text>
<text transform="translate(610.7 1538.05) rotate(-30) translate(-3.13 0) scale(1.0555 1)" font-size="37.1" font-family="Liberation Sans, Arial, sans-serif" stroke="#fff" stroke-width="0.36">Heat treatment II</text>
<text transform="translate(990.44 1475.5) rotate(-30) translate(-2.53 0) scale(0.8523 1)" font-size="37.1" font-family="Liberation Sans, Arial, sans-serif" stroke="#fff" stroke-width="0.36">BASE–YSZ</text>
<text transform="translate(1261.84 1475.5) rotate(-30) translate(-2.53 0) scale(0.8523 1)" font-size="37.1" font-family="Liberation Sans, Arial, sans-serif" stroke="#fff" stroke-width="0.36">BASE–YSZ</text>
<text transform="translate(1418.49 1541.75) rotate(-30) translate(-3.1 0) scale(1.0442 1)" font-size="37.1" font-family="Liberation Sans, Arial, sans-serif" stroke="#fff" stroke-width="0.36">Heat treatment III</text>
<text transform="translate(1751.81 1506) rotate(-30) translate(-1.91 0) scale(1.0306 1)" font-size="37.1" font-family="Liberation Sans, Arial, sans-serif" stroke="#fff" stroke-width="0.36">Co-treatment</text>
<text transform="translate(950.84 1564.6) scale(1.1909 1)" font-size="34.2" font-family="Liberation Sans, Arial, sans-serif">Modification</text>
<text transform="translate(71.5 1223.3) rotate(-90) translate(0 0) scale(0.8987 1)" font-size="35.94" font-family="Liberation Sans, Arial, sans-serif">ASR</text>
<text transform="translate(71.5 1223.3) rotate(-90) translate(66.71 9.5) scale(0.9348 1)" font-size="23.91" font-family="Liberation Sans, Arial, sans-serif">Na|BASE</text>
<text transform="translate(71.5 1223.3) rotate(-90) translate(171 0) scale(1.0450 1)" font-size="35.94" font-family="Liberation Sans, Arial, sans-serif">/<tspan font-family="Liberation Serif, serif">&#937;</tspan> cm&#178;</text>
<text transform="translate(0.37 884.8) scale(0.9631 1)" font-size="84.93" font-family="Liberation Sans, Arial, sans-serif" font-weight="bold">b</text></svg>
</body></html>
